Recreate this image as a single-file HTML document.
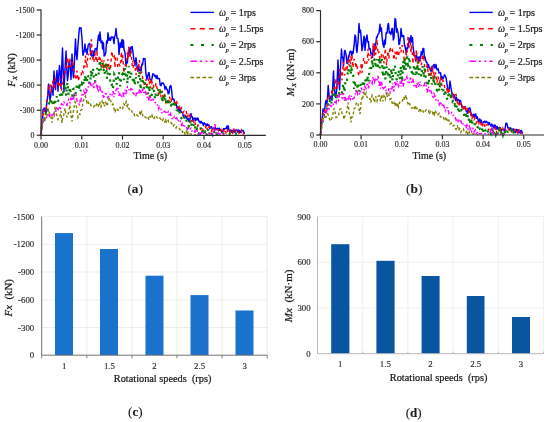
<!DOCTYPE html>
<html><head><meta charset="utf-8"><style>
html,body{margin:0;padding:0;background:#fff;}
svg{display:block;will-change:transform;}
text{font-family:"Liberation Serif",serif;fill:#1a1a1a;stroke:#1a1a1a;stroke-width:0.22px;}
.tk{font-size:8px;fill:#2a2a2a;stroke:#2a2a2a;stroke-width:0.15px;}
.tk2{font-size:8.8px;fill:#2a2a2a;stroke:#2a2a2a;stroke-width:0.15px;}
.ax2{font-size:10.3px;}
.ax{font-size:10px;}
.lg{font-size:10px;}
.pl{font-size:13px;stroke-width:0.1px;}
</style></head><body>
<svg width="550" height="422" viewBox="0 0 550 422">
<rect width="550" height="422" fill="#fff"/>
<path d="M41.0 135.2 L42.0 121.7 L42.6 117.1 L43.0 109.7 L44.5 108.0 L45.0 111.4 L46.0 112.6 L46.6 104.6 L47.4 99.2 L48.5 84.0 L49.0 90.9 L50.0 99.6 L50.6 97.2 L51.5 86.0 L52.2 89.1 L53.0 95.2 L54.0 71.0 L54.6 81.1 L55.5 89.6 L56.2 79.1 L57.0 70.5 L58.0 91.2 L58.6 77.1 L59.5 65.5 L60.2 73.3 L61.0 88.3 L61.8 64.4 L62.5 48.0 L63.4 77.1 L64.0 91.4 L65.0 69.2 L66.0 51.0 L66.6 66.9 L67.5 80.7 L68.2 75.1 L69.0 61.2 L69.5 60.6 L70.6 72.6 L71.0 79.4 L72.0 54.0 L73.0 73.1 L73.5 77.6 L74.6 57.9 L75.5 39.0 L76.2 53.2 L77.0 59.6 L78.0 44.5 L78.5 38.7 L79.4 27.8 L80.0 28.6 L81.0 27.8 L82.0 38.5 L82.6 51.2 L83.0 55.3 L84.2 50.6 L85.0 44.0 L85.8 51.7 L86.6 49.3 L87.0 54.3 L88.2 45.2 L89.0 43.9 L89.8 43.5 L90.6 55.0 L91.0 51.0 L92.2 56.7 L93.0 57.4 L93.8 51.2 L94.6 55.4 L95.0 49.0 L96.2 48.4 L97.0 50.4 L97.8 41.0 L98.6 35.1 L99.4 40.5 L100.0 32.0 L101.0 42.8 L102.0 41.0 L102.6 49.0 L103.4 42.6 L104.2 56.1 L105.0 55.1 L105.8 52.5 L106.6 41.0 L107.4 43.0 L108.0 32.8 L109.0 40.3 L110.0 37.9 L110.6 40.2 L111.4 37.0 L112.0 37.4 L113.0 37.0 L114.0 43.6 L114.6 36.7 L115.4 34.6 L116.0 28.5 L117.0 38.3 L118.0 38.5 L118.6 45.8 L119.0 54.5 L120.2 42.6 L121.0 47.3 L122.0 39.5 L122.6 47.3 L123.4 40.2 L124.0 49.2 L125.0 52.9 L126.0 65.8 L126.6 61.7 L127.4 62.8 L128.2 52.7 L129.0 53.2 L129.8 47.9 L130.6 52.9 L131.0 46.9 L132.2 46.6 L133.0 52.7 L133.8 59.4 L134.6 61.4 L135.0 65.8 L136.0 57.7 L137.0 66.0 L137.8 71.1 L138.6 66.0 L139.4 70.6 L140.0 69.5 L141.0 71.2 L142.0 63.8 L142.6 64.6 L143.4 58.5 L144.5 59.1 L145.0 58.5 L145.8 73.0 L146.6 77.5 L147.0 79.3 L148.5 72.9 L149.0 72.5 L149.8 78.8 L150.5 79.8 L151.4 81.0 L152.2 77.1 L152.7 74.0 L153.8 74.0 L154.6 76.3 L155.5 75.5 L156.2 78.2 L157.0 75.5 L157.8 78.8 L158.4 78.6 L159.4 78.4 L160.2 85.1 L161.0 85.7 L161.8 83.0 L163.0 83.2 L163.4 83.0 L164.5 86.0 L165.0 89.4 L165.8 86.6 L167.0 89.8 L167.4 89.7 L168.2 93.8 L169.0 93.4 L169.8 86.6 L170.8 85.4 L171.4 88.2 L172.5 99.4 L173.0 99.0 L173.8 99.0 L175.0 103.9 L175.4 103.5 L176.2 103.5 L177.0 108.2 L178.0 107.0 L178.6 110.1 L179.4 111.1 L180.2 108.2 L181.0 112.4 L181.8 112.0 L182.6 112.9 L183.4 116.8 L184.0 115.8 L185.0 118.1 L185.8 115.8 L187.0 118.5 L187.4 119.6 L188.2 118.3 L189.0 121.5 L190.0 119.2 L191.0 113.5 L191.4 116.7 L192.2 116.5 L193.0 121.0 L193.8 118.1 L194.6 118.0 L195.4 120.7 L196.0 118.0 L197.0 120.0 L197.8 118.0 L199.0 121.6 L199.4 121.2 L200.2 123.1 L201.0 121.2 L202.0 123.1 L202.6 122.8 L203.4 125.5 L204.2 122.8 L205.0 124.0 L205.8 123.9 L206.6 126.1 L207.4 123.9 L208.0 125.2 L209.0 125.0 L209.8 128.7 L211.0 126.6 L211.4 126.6 L212.2 128.7 L213.0 128.9 L214.0 127.7 L214.6 130.2 L215.4 127.7 L216.2 129.8 L217.0 128.6 L217.8 128.3 L218.6 130.8 L219.4 128.3 L220.0 130.2 L221.0 130.0 L221.8 132.5 L223.0 130.4 L223.4 128.8 L224.2 128.8 L225.0 128.8 L226.0 128.4 L227.0 126.0 L227.4 128.8 L228.2 126.0 L229.0 130.3 L229.8 131.4 L230.6 130.0 L231.4 132.2 L232.0 130.3 L233.0 132.1 L233.8 130.0 L234.6 132.3 L235.4 130.0 L236.0 130.0 L237.0 130.0 L237.8 132.3 L238.6 130.0 L239.4 132.5 L240.0 130.5 L241.0 132.7 L241.8 130.5 L242.6 130.5 L243.4 130.8 L244.0 133.0 L245.0 133.2" stroke="#0000ff" stroke-width="1.45" fill="none" stroke-linejoin="round"/>
<path d="M41.0 135.2 L42.5 117.5 L43.4 110.1 L44.0 111.0 L44.6 110.2 L45.5 115.0 L47.0 99.3 L48.5 92.9 L49.4 84.0 L50.0 88.5 L50.6 84.6 L51.5 92.9 L53.0 80.7 L54.2 89.1 L55.0 82.0 L55.4 78.9 L56.5 80.7 L58.0 84.1 L59.0 87.1 L60.0 78.5 L61.4 90.6 L62.0 86.3 L62.6 85.1 L63.5 75.1 L65.0 75.5 L66.2 64.3 L67.0 68.2 L67.4 57.4 L69.0 67.3 L69.8 57.8 L71.0 67.1 L72.2 62.7 L73.0 64.8 L73.4 66.3 L75.0 76.6 L75.8 80.0 L77.0 70.7 L78.2 80.8 L79.0 77.8 L79.4 78.3 L81.0 76.9 L81.8 69.9 L83.0 72.6 L84.2 63.8 L85.0 67.2 L85.4 55.6 L87.0 67.5 L87.8 53.5 L89.0 56.0 L90.2 59.5 L91.0 48.2 L91.4 39.4 L93.0 61.7 L93.8 62.1 L95.0 52.9 L96.2 61.6 L97.0 50.0 L97.4 62.4 L99.0 58.3 L99.8 55.5 L101.0 66.3 L102.2 59.5 L103.4 68.9 L104.0 60.2 L104.6 68.8 L106.0 63.6 L107.0 70.1 L108.0 59.1 L109.4 70.1 L110.0 65.9 L110.6 68.1 L111.8 51.2 L113.0 58.4 L114.2 56.4 L115.0 67.6 L115.4 57.6 L117.0 56.3 L117.8 67.7 L119.0 64.4 L120.2 66.5 L121.4 51.7 L122.0 62.0 L122.6 53.5 L123.8 72.9 L125.0 65.2 L126.2 66.0 L127.4 52.6 L128.0 57.8 L128.6 46.4 L129.8 58.1 L131.0 50.4 L132.2 66.0 L133.0 60.6 L133.4 67.6 L134.6 62.7 L136.0 75.1 L137.0 66.4 L138.0 71.3 L139.4 60.1 L140.0 66.1 L140.6 73.4 L141.8 72.2 L143.0 80.7 L144.2 84.2 L145.4 83.7 L146.0 79.2 L146.6 85.4 L148.0 84.0 L149.0 77.9 L150.2 88.4 L151.4 78.8 L152.0 82.9 L152.6 81.6 L153.8 87.7 L155.0 88.2 L156.0 83.0 L157.4 90.1 L158.6 94.1 L160.0 89.1 L161.0 97.1 L162.2 90.9 L163.0 97.4 L164.6 93.9 L165.8 102.1 L167.0 99.0 L168.2 104.8 L169.4 96.6 L170.6 100.2 L171.0 102.2 L171.8 99.1 L173.0 99.9 L174.0 100.5 L175.4 104.1 L176.6 100.8 L177.0 103.8 L177.8 109.3 L179.0 105.4 L180.0 110.9 L181.4 108.0 L182.6 112.9 L184.0 111.2 L185.0 116.0 L186.2 111.2 L187.4 117.3 L188.0 115.5 L188.6 117.9 L189.8 115.1 L191.0 121.7 L192.0 119.0 L193.4 121.6 L194.6 119.0 L195.0 122.9 L195.8 124.9 L197.0 127.2 L198.0 125.1 L199.4 129.2 L200.6 129.5 L202.0 126.4 L203.0 130.6 L204.2 129.1 L205.4 126.2 L206.6 130.1 L207.0 128.0 L207.8 130.6 L209.0 126.5 L210.2 127.7 L211.4 131.3 L212.0 129.6 L212.6 129.3 L213.8 132.3 L215.0 129.0 L216.0 130.7 L217.4 129.3 L218.6 130.0 L220.0 132.5 L221.0 129.9 L222.2 132.9 L223.4 132.7 L224.6 128.5 L226.0 132.7 L227.0 128.7 L228.2 133.0 L229.4 133.7 L230.6 128.9 L232.0 131.6 L233.0 134.3 L234.2 128.1 L235.4 132.1 L236.6 129.5 L238.0 130.3 L239.0 133.6 L240.2 133.2 L241.4 130.3 L242.6 135.2 L244.0 132.6" stroke="#ff0000" stroke-width="1.4" fill="none" stroke-dasharray="3.2 3.2"/>
<path d="M41.0 135.2 L42.2 123.2 L43.0 121.3 L43.4 116.9 L44.6 119.0 L46.0 112.0 L47.0 113.1 L48.0 109.4 L49.4 100.9 L50.0 102.9 L50.6 98.1 L52.0 105.2 L53.0 99.7 L54.2 105.6 L55.0 99.4 L55.4 102.6 L56.6 96.2 L58.0 101.8 L59.0 95.5 L60.2 94.8 L61.0 97.7 L61.4 91.5 L62.6 96.7 L64.0 87.3 L65.0 84.0 L66.2 95.7 L67.0 85.8 L67.4 82.5 L68.6 95.0 L70.0 87.3 L71.0 95.3 L72.2 96.0 L73.0 89.4 L73.4 89.1 L74.6 97.3 L76.0 91.6 L77.0 83.7 L78.2 85.5 L79.0 90.3 L79.4 83.3 L80.6 91.2 L82.0 84.0 L83.0 86.3 L84.2 78.2 L85.0 81.7 L85.4 74.8 L86.6 82.5 L88.0 75.0 L89.0 82.3 L90.2 83.5 L91.0 70.5 L91.4 77.4 L93.0 68.4 L93.8 76.4 L95.0 81.9 L96.0 75.4 L97.4 67.9 L99.0 75.0 L99.8 60.2 L101.0 71.2 L102.2 62.1 L103.4 65.5 L104.0 74.3 L104.6 74.4 L105.8 62.5 L107.0 78.8 L108.0 71.2 L109.4 67.6 L110.0 79.3 L110.6 85.6 L112.0 84.9 L113.0 89.0 L114.2 74.3 L115.0 75.8 L115.4 75.0 L116.6 84.5 L118.0 77.0 L119.0 72.3 L120.2 86.4 L121.0 79.9 L121.4 75.6 L122.6 73.9 L124.0 79.9 L125.0 68.1 L126.2 78.4 L127.0 72.3 L127.4 83.5 L128.6 66.0 L130.0 77.9 L131.0 72.2 L132.0 76.4 L133.4 83.0 L134.0 77.3 L134.6 85.4 L135.8 77.2 L137.0 82.7 L138.2 82.3 L139.4 71.2 L140.0 76.5 L140.6 89.5 L141.8 78.1 L143.0 80.9 L144.0 88.8 L145.4 82.1 L146.6 86.7 L148.0 93.7 L149.0 85.7 L150.2 98.5 L151.4 97.4 L152.0 91.8 L152.6 86.6 L153.8 89.6 L155.0 99.1 L156.0 92.0 L157.4 95.9 L158.6 87.8 L160.0 92.0 L161.0 89.0 L162.2 102.5 L163.4 95.7 L164.0 99.9 L164.6 94.5 L165.8 104.0 L167.0 98.7 L168.0 103.4 L169.4 100.8 L170.6 106.9 L172.0 101.8 L173.0 107.3 L174.2 101.1 L175.0 104.5 L176.6 110.1 L178.0 110.6 L179.0 108.9 L180.2 117.2 L181.0 117.8 L182.6 119.5 L183.8 116.2 L185.0 120.6 L186.2 119.5 L187.4 123.8 L188.6 126.4 L189.0 124.5 L189.8 120.7 L191.0 126.3 L192.2 121.8 L193.4 123.6 L194.0 126.2 L194.6 124.4 L195.8 131.5 L197.0 129.1 L198.2 134.1 L199.4 132.7 L200.6 127.7 L202.0 132.8 L203.0 128.7 L204.2 135.2 L205.4 131.0 L206.0 131.1 L206.6 135.2 L207.8 129.0 L209.0 134.7 L210.2 130.9 L211.0 131.8 L212.6 134.8 L213.8 130.7 L215.0 135.2 L216.0 133.6 L217.4 133.8 L218.6 133.8 L219.8 133.9 L221.0 133.6 L222.2 133.8 L223.4 133.5 L224.6 133.8 L225.8 133.5 L227.0 133.6 L228.2 133.8 L229.4 133.8 L230.6 133.6 L231.8 133.8 L233.0 133.6 L234.2 133.8 L235.4 133.5 L236.6 133.8 L238.0 133.7" stroke="#007f00" stroke-width="2.2" fill="none" stroke-dasharray="2.2 4.2"/>
<path d="M41.0 135.2 L42.2 127.0 L43.0 118.2 L43.4 119.5 L44.6 117.1 L46.0 117.9 L47.0 117.2 L48.2 114.5 L49.0 114.7 L49.4 116.0 L50.6 113.9 L52.0 116.6 L53.0 112.7 L54.2 115.2 L55.0 111.1 L55.4 112.9 L56.6 108.0 L58.0 109.6 L59.0 106.7 L60.2 109.6 L61.0 107.1 L61.4 103.3 L62.6 106.2 L64.0 102.2 L65.0 104.4 L66.2 105.0 L67.0 105.4 L67.4 102.1 L68.6 99.7 L70.0 102.6 L71.0 98.3 L72.2 100.8 L73.0 95.7 L73.4 99.7 L74.6 93.1 L76.0 95.2 L77.0 101.4 L78.0 103.1 L79.4 104.6 L80.0 101.3 L80.6 102.5 L82.0 95.0 L83.0 96.4 L84.0 91.3 L85.4 94.9 L86.0 87.8 L86.6 91.2 L87.8 88.7 L89.0 84.2 L90.2 81.6 L91.4 87.3 L93.0 83.4 L93.8 88.2 L95.0 80.7 L96.0 83.0 L97.4 88.1 L98.0 85.9 L98.6 90.3 L99.8 87.4 L101.0 92.4 L102.2 90.1 L103.4 97.1 L105.0 96.2 L105.8 92.1 L107.0 95.7 L108.0 98.0 L109.4 94.0 L111.0 94.8 L111.8 96.0 L113.0 91.2 L114.0 97.0 L115.4 91.7 L117.0 88.3 L117.8 86.8 L119.0 95.8 L120.0 92.8 L121.4 97.5 L123.0 93.6 L123.8 96.6 L125.0 89.8 L126.0 93.1 L127.4 87.0 L128.6 89.2 L130.0 91.3 L131.0 88.8 L132.2 89.3 L133.4 94.2 L134.0 93.1 L134.6 96.0 L135.8 95.8 L137.0 91.5 L138.2 94.1 L139.4 89.2 L140.0 93.4 L140.6 89.9 L141.8 93.1 L143.0 88.6 L144.2 94.2 L145.4 90.5 L147.0 97.5 L147.8 93.9 L149.0 101.1 L150.2 96.4 L151.0 100.3 L152.6 99.4 L153.8 100.0 L155.0 102.5 L156.2 102.7 L157.4 104.8 L158.6 108.8 L159.0 107.4 L159.8 110.1 L161.0 109.4 L162.2 113.6 L163.0 112.9 L164.6 111.3 L165.8 112.2 L167.0 113.7 L168.2 111.8 L169.4 116.3 L170.6 113.8 L171.0 117.1 L171.8 118.3 L173.0 119.4 L174.2 116.9 L175.0 118.9 L176.6 117.7 L178.0 121.4 L179.0 119.6 L180.2 120.9 L181.4 124.9 L182.0 123.8 L182.6 126.9 L183.8 124.2 L185.0 127.4 L186.0 127.0 L187.4 129.3 L188.6 127.9 L190.0 129.0 L191.0 128.2 L192.2 131.5 L193.4 132.6 L194.6 131.9 L195.0 130.7 L195.8 132.6 L197.0 130.8 L198.2 133.4 L199.4 134.3 L200.0 132.3 L200.6 134.0 L201.8 131.6 L203.0 132.1 L204.2 134.2 L205.0 133.6 L206.6 133.7 L207.8 133.9 L209.0 133.8 L210.2 133.8 L211.4 134.0 L212.6 133.9 L213.0 134.0 L213.8 129.2 L215.0 124.2 L216.0 133.1 L217.4 131.6 L218.6 133.8 L219.8 133.7 L221.0 134.0 L222.2 134.0 L223.4 134.1 L224.6 134.1 L225.0 134.2" stroke="#ff00ff" stroke-width="1.5" fill="none" stroke-dasharray="4 2 1.5 2 1.5 2"/>
<path d="M41.0 135.2 L42.2 127.7 L43.0 118.6 L43.4 120.6 L44.6 118.2 L46.0 115.3 L47.0 116.1 L48.2 110.0 L49.0 109.6 L49.4 113.1 L50.6 114.7 L52.0 122.6 L53.0 116.0 L54.2 113.0 L55.0 106.6 L55.4 106.7 L56.6 115.0 L58.0 119.5 L59.0 117.6 L60.2 114.4 L61.0 110.9 L61.4 117.7 L62.0 123.0 L62.6 117.8 L63.8 115.4 L65.0 108.4 L66.2 114.9 L67.0 117.3 L67.4 115.0 L68.6 113.1 L70.0 105.1 L71.0 115.6 L72.0 121.5 L73.4 111.2 L75.0 101.8 L75.8 103.4 L77.0 109.6 L78.0 117.5 L79.4 114.0 L80.0 114.4 L80.6 110.5 L82.0 109.3 L83.0 101.5 L84.0 99.1 L85.4 96.3 L87.0 102.6 L87.8 100.9 L89.0 104.2 L90.0 103.1 L91.4 106.2 L93.0 106.0 L93.8 106.9 L95.0 104.2 L96.0 105.5 L97.4 102.6 L98.6 106.9 L100.0 102.9 L101.0 106.5 L102.2 101.5 L103.4 104.8 L104.0 102.1 L104.6 106.3 L105.8 102.6 L107.0 106.1 L108.2 100.5 L109.0 99.8 L109.4 97.8 L110.6 100.7 L112.0 104.5 L113.0 104.0 L114.2 109.3 L115.0 107.8 L115.4 111.0 L116.6 108.4 L118.0 110.1 L119.0 110.7 L120.2 107.3 L121.0 108.3 L121.4 109.5 L122.6 108.7 L123.8 103.8 L125.0 105.8 L126.2 101.8 L127.4 107.3 L128.0 103.8 L128.6 108.3 L130.0 109.8 L131.0 109.2 L132.2 112.2 L133.0 112.7 L133.4 112.1 L134.6 115.5 L135.8 114.0 L137.0 115.3 L138.2 116.2 L139.4 114.4 L140.0 111.4 L140.6 113.6 L141.8 111.4 L143.0 116.6 L144.0 115.8 L145.4 117.5 L147.0 117.5 L147.8 116.5 L149.0 119.8 L150.2 116.4 L151.4 117.8 L152.0 115.5 L152.6 117.8 L153.8 119.2 L155.0 116.2 L156.2 115.8 L157.0 117.6 L158.6 119.4 L159.8 118.1 L161.0 119.5 L162.2 121.5 L163.4 118.7 L164.6 120.5 L165.0 122.9 L165.8 120.1 L167.0 122.9 L168.2 120.7 L169.0 122.9 L170.6 122.2 L172.0 124.1 L173.0 126.6 L174.2 124.7 L175.4 126.3 L176.0 127.9 L176.6 126.8 L177.8 127.0 L179.0 128.1 L180.0 129.7 L181.4 129.1 L182.6 132.2 L184.0 130.8 L185.0 134.1 L186.2 131.1 L187.4 135.2 L188.0 132.4 L188.6 134.0 L189.8 133.7 L191.0 134.3 L192.2 134.5 L193.4 134.5 L194.6 134.7 L196.0 134.8" stroke="#808000" stroke-width="1.4" fill="none" stroke-dasharray="2.8 2.2"/>
<path d="M41.0 9.6 V135.3 H265.8" stroke="#2b2b2b" stroke-width="1.15" fill="none"/>
<path d="M36.7 135.2 H41.0" stroke="#2b2b2b" stroke-width="1.2"/>
<text x="34.4" y="137.9" class="tk" text-anchor="end">0</text>
<path d="M36.7 110.2 H41.0" stroke="#2b2b2b" stroke-width="1.2"/>
<text x="34.4" y="112.9" class="tk" text-anchor="end">-300</text>
<path d="M36.7 85.1 H41.0" stroke="#2b2b2b" stroke-width="1.2"/>
<text x="34.4" y="87.8" class="tk" text-anchor="end">-600</text>
<path d="M36.7 60.1 H41.0" stroke="#2b2b2b" stroke-width="1.2"/>
<text x="34.4" y="62.8" class="tk" text-anchor="end">-900</text>
<path d="M36.7 35.0 H41.0" stroke="#2b2b2b" stroke-width="1.2"/>
<text x="34.4" y="37.7" class="tk" text-anchor="end">-1200</text>
<path d="M36.7 10.0 H41.0" stroke="#2b2b2b" stroke-width="1.2"/>
<text x="34.4" y="12.7" class="tk" text-anchor="end">-1500</text>
<path d="M41.0 135.3 V139.6" stroke="#2b2b2b" stroke-width="1.2"/>
<text x="41.0" y="147.6" class="tk" text-anchor="middle">0.00</text>
<path d="M81.8 135.3 V139.6" stroke="#2b2b2b" stroke-width="1.2"/>
<text x="81.8" y="147.6" class="tk" text-anchor="middle">0.01</text>
<path d="M122.5 135.3 V139.6" stroke="#2b2b2b" stroke-width="1.2"/>
<text x="122.5" y="147.6" class="tk" text-anchor="middle">0.02</text>
<path d="M163.2 135.3 V139.6" stroke="#2b2b2b" stroke-width="1.2"/>
<text x="163.2" y="147.6" class="tk" text-anchor="middle">0.03</text>
<path d="M204.0 135.3 V139.6" stroke="#2b2b2b" stroke-width="1.2"/>
<text x="204.0" y="147.6" class="tk" text-anchor="middle">0.04</text>
<path d="M244.8 135.3 V139.6" stroke="#2b2b2b" stroke-width="1.2"/>
<text x="244.8" y="147.6" class="tk" text-anchor="middle">0.05</text>
<path d="M190.4 12.4 H213.8" stroke="#0000ff" stroke-width="1.4" fill="none" stroke-linejoin="round"/>
<text x="219.0" y="15.8" class="lg"><tspan font-style="italic">&#969;</tspan><tspan font-style="italic" font-size="6" dy="3.7" dx="-0.4">p</tspan><tspan dy="-3.7" dx="-0.6"> = 1rps</tspan></text>
<path d="M190.4 28.7 H213.8" stroke="#ff0000" stroke-width="1.5" fill="none" stroke-dasharray="5 4.4"/>
<text x="219.0" y="32.0" class="lg"><tspan font-style="italic">&#969;</tspan><tspan font-style="italic" font-size="6" dy="3.7" dx="-0.4">p</tspan><tspan dy="-3.7" dx="-0.6"> = 1.5rps</tspan></text>
<path d="M190.4 45.0 H213.8" stroke="#007f00" stroke-width="2.2" fill="none" stroke-dasharray="3 7.6"/>
<text x="219.0" y="48.2" class="lg"><tspan font-style="italic">&#969;</tspan><tspan font-style="italic" font-size="6" dy="3.7" dx="-0.4">p</tspan><tspan dy="-3.7" dx="-0.6"> = 2rps</tspan></text>
<path d="M190.4 61.2 H213.8" stroke="#ff00ff" stroke-width="1.6" fill="none" stroke-dasharray="6.5 3 2 3.5 2 3"/>
<text x="219.0" y="64.5" class="lg"><tspan font-style="italic">&#969;</tspan><tspan font-style="italic" font-size="6" dy="3.7" dx="-0.4">p</tspan><tspan dy="-3.7" dx="-0.6"> = 2.5rps</tspan></text>
<path d="M190.4 77.5 H213.8" stroke="#808000" stroke-width="1.5" fill="none" stroke-dasharray="3.7 2.3"/>
<text x="219.0" y="80.8" class="lg"><tspan font-style="italic">&#969;</tspan><tspan font-style="italic" font-size="6" dy="3.7" dx="-0.4">p</tspan><tspan dy="-3.7" dx="-0.6"> = 3rps</tspan></text>
<text x="150.3" y="159.4" class="ax" text-anchor="middle">Time (s)</text>
<text transform="translate(14.5 70) rotate(-90)" class="ax" style="font-size:10.6px" text-anchor="middle"><tspan font-style="italic">F</tspan><tspan font-style="italic" font-size="7" dy="2">X</tspan><tspan dy="-2"> (kN)</tspan></text>
<text x="135.2" y="193" class="pl" style="font-size:13.4px" text-anchor="middle">(<tspan font-weight="bold">a</tspan>)</text>
<path d="M320.5 135.0 L321.3 125.8 L322.0 120.2 L323.0 109.2 L323.7 109.0 L324.5 112.1 L325.3 103.9 L326.0 100.4 L327.0 103.7 L327.7 94.2 L328.2 85.5 L329.3 97.6 L329.8 99.8 L331.0 96.3 L332.0 100.2 L332.5 91.3 L333.5 71.0 L334.1 83.2 L335.2 96.7 L335.7 97.5 L336.5 91.7 L337.3 78.8 L338.0 60.0 L338.9 80.3 L339.6 89.7 L340.5 67.5 L341.5 49.1 L342.1 57.7 L342.9 57.3 L343.5 65.9 L344.5 51.1 L345.0 50.3 L346.1 55.0 L347.0 63.4 L347.7 63.4 L348.5 55.9 L349.0 55.8 L350.1 51.3 L351.0 51.3 L351.7 55.6 L352.5 51.7 L353.0 53.6 L354.1 45.2 L355.0 35.0 L355.7 36.8 L356.5 50.3 L357.0 52.5 L358.1 40.4 L359.0 23.5 L359.7 32.2 L360.5 30.2 L361.0 35.9 L362.0 50.6 L362.9 45.8 L364.0 36.3 L364.5 38.2 L365.0 50.5 L366.1 39.2 L367.0 34.9 L367.7 41.9 L368.5 41.6 L369.0 49.0 L370.1 48.4 L370.9 53.9 L372.0 53.5 L372.5 57.5 L373.3 46.4 L374.1 51.7 L375.0 43.7 L375.7 45.0 L376.5 37.0 L377.0 37.5 L378.1 34.1 L378.9 33.7 L380.0 24.2 L380.5 31.1 L381.3 27.9 L382.0 35.6 L382.9 44.1 L384.0 47.2 L384.5 40.1 L385.3 44.1 L386.1 32.8 L387.0 33.2 L388.0 24.2 L388.5 23.5 L389.3 33.0 L390.0 32.0 L390.9 34.6 L392.0 28.5 L392.5 28.5 L393.3 40.0 L394.0 37.8 L395.0 18.5 L395.7 19.7 L396.5 32.1 L397.0 28.5 L398.1 33.1 L399.0 44.6 L399.7 43.2 L400.5 36.5 L401.0 28.5 L402.1 36.8 L403.0 35.6 L403.7 35.6 L404.5 45.8 L405.0 45.6 L406.1 52.8 L407.0 47.7 L407.7 48.3 L408.5 45.4 L409.0 37.9 L410.1 42.7 L411.0 35.6 L411.7 42.0 L412.5 37.6 L413.0 45.9 L414.1 54.2 L415.0 55.5 L415.7 61.1 L416.5 55.5 L417.0 59.0 L418.1 57.0 L418.9 61.5 L420.0 56.4 L420.5 58.6 L421.3 51.6 L422.1 55.0 L423.0 48.4 L423.7 48.4 L424.5 58.5 L425.0 57.0 L426.1 61.9 L427.0 62.6 L427.7 67.8 L428.5 64.4 L429.0 67.3 L430.0 68.0 L430.9 71.4 L431.7 66.5 L432.5 71.0 L433.0 65.9 L434.1 64.4 L434.9 68.1 L436.0 64.4 L436.5 68.3 L437.3 69.8 L438.1 68.7 L439.0 73.0 L439.7 72.7 L440.5 72.7 L441.3 79.5 L442.0 76.4 L442.9 78.8 L443.7 77.4 L444.5 74.7 L445.0 75.1 L446.1 77.9 L447.0 84.0 L447.7 88.7 L448.5 91.9 L449.0 90.9 L450.0 81.0 L450.9 87.4 L452.0 93.3 L452.5 93.3 L453.3 97.3 L454.1 94.6 L455.0 97.6 L455.7 100.7 L456.5 97.4 L457.3 100.8 L458.0 99.7 L458.9 99.7 L459.7 104.4 L460.5 100.4 L461.0 103.6 L462.1 107.5 L462.9 108.0 L464.0 106.7 L464.5 108.6 L465.3 106.7 L466.1 111.1 L467.0 111.5 L467.7 113.2 L468.5 109.0 L469.3 108.0 L470.0 108.0 L470.9 113.1 L472.0 115.9 L472.5 116.6 L473.3 114.3 L474.1 117.2 L475.0 114.2 L475.7 114.0 L476.5 118.3 L477.3 116.8 L478.0 119.4 L478.9 121.9 L479.7 119.0 L480.5 122.4 L481.0 120.0 L482.1 122.7 L482.9 123.0 L484.0 121.5 L484.5 121.2 L485.3 122.7 L486.1 121.2 L487.0 122.5 L487.7 122.3 L488.5 124.8 L489.3 122.4 L490.0 124.3 L490.9 126.1 L491.7 124.0 L492.5 126.5 L493.0 125.0 L494.1 128.2 L494.9 125.0 L496.0 126.6 L496.5 129.1 L497.3 126.6 L498.1 129.3 L499.0 127.7 L499.7 129.0 L500.5 127.7 L501.3 131.2 L502.0 129.6 L502.9 129.4 L503.7 129.4 L504.5 131.2 L505.0 129.0 L506.0 123.1 L506.9 123.4 L508.0 128.1 L508.5 127.7 L509.3 130.4 L510.1 127.7 L511.0 129.2 L511.7 128.8 L512.5 130.6 L513.3 128.8 L514.0 129.4 L514.9 132.2 L515.7 132.6 L516.5 129.4 L517.0 130.2 L518.1 130.0 L518.9 132.9 L520.0 130.5 L520.5 133.1 L521.3 130.5 L522.1 132.6 L523.0 132.0" stroke="#0000ff" stroke-width="1.45" fill="none" stroke-linejoin="round"/>
<path d="M320.5 135.0 L322.0 119.4 L322.9 117.0 L324.0 109.0 L325.3 113.9 L326.0 110.8 L326.5 109.7 L328.0 96.8 L328.9 98.7 L330.0 94.2 L331.3 94.2 L332.0 89.1 L332.5 93.9 L334.0 86.3 L334.9 89.2 L336.0 78.1 L337.3 88.3 L338.0 82.8 L338.5 85.8 L340.0 69.0 L340.9 71.6 L342.0 80.3 L343.3 62.0 L344.0 68.0 L344.5 75.5 L346.0 68.5 L346.9 70.8 L348.0 60.1 L349.3 66.2 L350.0 55.5 L350.5 64.3 L352.0 55.0 L352.9 67.7 L354.0 58.8 L355.3 62.1 L356.0 68.2 L356.5 63.3 L358.0 72.0 L358.9 76.0 L360.0 72.2 L361.3 63.3 L362.0 72.9 L362.5 63.1 L364.0 57.8 L364.9 63.3 L366.0 65.4 L367.3 60.7 L368.0 48.7 L368.5 60.5 L370.0 54.4 L370.9 59.1 L372.0 56.2 L373.3 43.3 L374.5 60.5 L375.0 44.9 L375.7 54.6 L377.0 39.3 L378.1 54.1 L379.0 51.5 L380.5 63.0 L381.7 52.9 L383.0 54.9 L384.1 63.5 L385.3 48.3 L386.5 65.4 L388.0 51.0 L388.9 58.8 L390.1 46.9 L391.0 52.4 L392.5 50.0 L394.0 60.0 L394.9 51.5 L396.1 59.1 L397.0 49.9 L398.5 56.5 L400.0 47.2 L400.9 52.3 L402.1 45.1 L403.0 48.4 L404.5 62.1 L406.0 53.8 L406.9 55.7 L408.0 36.7 L409.3 47.5 L410.5 42.4 L411.0 52.7 L411.7 44.7 L412.9 63.6 L414.0 52.0 L415.3 60.2 L416.5 49.6 L417.0 59.4 L417.7 67.3 L418.9 62.1 L420.0 57.9 L421.3 65.1 L422.5 56.1 L423.0 59.1 L423.7 55.1 L424.9 72.0 L426.0 69.8 L427.3 64.9 L428.5 75.7 L430.0 68.2 L430.9 77.3 L432.1 66.0 L433.3 81.5 L434.0 71.7 L434.5 78.0 L435.7 72.5 L436.9 82.9 L438.0 76.3 L439.3 85.8 L440.5 76.7 L442.0 85.8 L442.9 80.4 L444.1 83.1 L445.3 92.9 L446.0 91.1 L446.5 88.0 L447.7 93.4 L448.9 87.7 L450.0 94.8 L451.3 98.4 L452.5 92.4 L454.0 98.4 L454.9 95.3 L456.1 94.6 L457.3 102.7 L458.0 101.0 L458.5 103.2 L459.7 106.8 L460.9 101.8 L462.0 105.2 L463.3 110.3 L464.5 105.1 L466.0 110.1 L466.9 107.5 L468.1 113.6 L469.3 111.5 L470.0 114.8 L470.5 113.5 L471.7 119.2 L472.9 116.3 L474.0 119.6 L475.3 117.6 L476.5 122.6 L478.0 120.2 L478.9 123.4 L480.1 120.5 L481.3 125.4 L482.0 122.1 L482.5 125.0 L483.7 122.6 L484.9 127.8 L486.0 125.2 L487.3 124.4 L488.5 130.2 L490.0 128.4 L490.9 130.5 L492.1 127.0 L493.3 132.7 L494.5 131.1 L495.0 130.5 L495.7 127.1 L496.9 133.1 L498.1 129.3 L499.3 128.8 L500.0 132.2 L500.5 127.8 L501.7 133.6 L502.9 128.3 L504.1 132.2 L505.0 132.2 L506.5 127.9 L507.7 127.7 L508.9 128.8 L510.0 131.2 L511.3 133.0 L512.5 129.4 L513.7 131.8 L515.0 130.2 L516.1 128.6 L517.3 132.7 L518.5 128.5 L520.0 132.5 L520.9 131.2 L522.1 133.8 L523.0 133.2" stroke="#ff0000" stroke-width="1.4" fill="none" stroke-dasharray="3.2 3.2"/>
<path d="M320.5 135.0 L321.7 124.9 L323.0 120.6 L324.1 113.2 L325.3 117.4 L326.0 111.0 L326.5 113.1 L327.7 103.5 L329.0 105.8 L330.1 100.0 L331.3 103.9 L332.0 97.3 L332.5 99.7 L333.7 88.8 L335.0 92.8 L336.1 99.5 L337.3 93.3 L338.0 97.0 L338.5 97.4 L339.7 90.4 L341.0 92.1 L342.1 92.6 L343.3 83.9 L344.5 92.1 L345.0 85.4 L345.7 79.8 L347.0 80.9 L348.1 68.6 L349.0 73.5 L350.5 65.2 L351.0 74.1 L351.7 69.5 L353.0 72.3 L354.1 89.0 L355.0 80.9 L356.5 92.2 L358.0 83.0 L358.9 91.5 L360.1 88.1 L361.0 82.9 L362.5 85.2 L363.0 80.3 L363.7 86.9 L364.9 79.1 L366.0 83.3 L367.3 75.6 L368.5 82.2 L369.0 76.4 L369.7 67.5 L371.0 70.7 L372.1 59.3 L373.0 67.9 L374.5 58.6 L376.0 67.9 L376.9 59.2 L378.1 69.1 L379.3 57.6 L380.0 68.4 L380.5 59.4 L381.7 58.2 L382.9 76.7 L384.0 64.7 L385.3 79.5 L386.5 66.4 L388.0 77.1 L388.9 68.5 L390.1 82.6 L391.3 68.7 L392.0 75.3 L392.5 80.9 L393.7 68.0 L394.9 65.1 L396.0 78.2 L397.3 80.4 L398.5 70.4 L400.0 79.4 L400.9 66.3 L402.1 81.4 L403.3 61.0 L404.0 70.7 L404.5 58.3 L405.7 70.0 L406.9 54.5 L408.0 67.9 L409.3 57.0 L410.5 72.6 L412.0 72.1 L412.9 75.8 L414.1 64.6 L415.3 74.8 L416.0 67.3 L416.5 76.0 L417.7 61.5 L418.9 74.9 L420.0 68.6 L421.3 76.4 L422.5 65.8 L424.0 77.7 L424.9 66.7 L426.1 81.2 L427.3 84.7 L428.0 81.7 L428.5 85.2 L429.7 73.2 L430.9 75.6 L432.0 84.4 L433.3 79.3 L434.0 84.2 L434.5 76.4 L435.7 88.6 L436.9 90.1 L438.0 83.7 L439.3 91.1 L440.5 81.8 L442.0 90.0 L442.9 87.0 L444.1 95.3 L445.3 90.2 L446.0 96.0 L446.5 97.5 L447.7 100.1 L448.9 91.6 L450.0 98.7 L451.3 96.4 L452.5 101.5 L454.0 99.5 L454.9 104.9 L456.1 103.2 L457.3 111.0 L458.0 110.4 L458.5 107.1 L459.7 112.1 L460.9 108.5 L462.0 110.4 L463.3 110.6 L464.5 117.5 L466.0 115.0 L466.9 119.1 L468.1 114.8 L469.3 122.7 L470.0 120.6 L470.5 124.3 L471.7 118.5 L472.9 126.2 L474.0 124.8 L475.3 123.8 L476.5 122.9 L478.0 128.7 L478.9 126.5 L480.1 129.6 L481.3 130.6 L482.0 128.1 L482.5 133.2 L483.7 127.6 L484.9 129.6 L486.0 132.3 L487.3 129.9 L488.5 133.7 L490.0 131.6 L490.9 133.5 L492.1 128.7 L493.3 134.2 L494.5 131.1 L495.7 134.8 L496.9 130.6 L498.1 135.0 L499.3 129.8 L500.0 132.0 L500.5 134.0 L501.7 131.3 L502.9 135.0 L504.1 130.1 L505.3 134.5 L506.5 131.6 L507.7 131.8 L508.9 131.0 L510.0 132.3 L511.3 130.1 L512.5 134.5 L513.7 132.3 L514.9 133.6 L516.1 133.4 L517.3 133.8 L518.0 133.7" stroke="#007f00" stroke-width="2.2" fill="none" stroke-dasharray="2.2 4.2"/>
<path d="M320.5 135.0 L321.7 123.9 L323.0 116.9 L324.1 112.7 L325.3 110.4 L326.5 112.0 L327.0 108.7 L327.7 107.6 L328.9 110.3 L330.1 105.4 L331.0 106.5 L332.5 103.6 L334.0 104.9 L334.9 100.9 L336.1 102.9 L337.0 97.0 L338.5 100.3 L339.7 93.1 L341.0 94.3 L342.1 97.8 L343.3 93.1 L344.5 100.6 L345.0 96.8 L345.7 101.5 L346.9 97.8 L348.0 100.6 L349.3 96.4 L350.5 99.0 L351.0 95.8 L351.7 98.7 L352.9 98.9 L354.1 98.0 L355.0 94.7 L356.5 89.4 L357.7 94.6 L359.0 92.9 L360.1 94.2 L361.3 87.6 L362.5 92.2 L363.0 92.5 L363.7 92.8 L364.9 86.5 L366.0 88.4 L367.3 82.9 L368.0 86.0 L368.5 88.3 L369.7 80.1 L371.0 81.5 L372.1 83.7 L373.0 76.9 L374.5 82.2 L376.0 77.8 L376.9 81.4 L378.1 76.0 L379.3 86.7 L380.0 81.9 L380.5 88.5 L381.7 81.6 L382.9 89.8 L384.0 87.8 L385.3 87.0 L386.5 93.1 L388.0 92.9 L388.9 88.4 L390.1 92.2 L391.3 87.3 L392.0 89.2 L392.5 83.4 L393.7 91.4 L394.9 81.0 L396.0 86.1 L397.3 80.8 L398.5 86.3 L400.0 82.7 L400.9 86.4 L402.1 78.6 L403.3 86.7 L404.0 81.8 L404.5 78.2 L405.7 80.2 L406.9 77.0 L408.0 82.1 L409.3 83.9 L410.5 77.7 L412.0 83.2 L412.9 78.6 L414.1 86.6 L415.3 86.8 L416.0 83.9 L416.5 87.9 L417.7 81.9 L418.9 86.7 L420.0 81.6 L421.3 86.3 L422.5 85.8 L424.0 85.7 L424.9 83.1 L426.1 85.2 L427.3 92.3 L428.0 88.6 L428.5 86.6 L429.7 92.4 L430.9 91.0 L432.0 94.4 L433.3 98.5 L434.0 93.9 L434.5 94.9 L435.7 99.5 L436.9 101.4 L438.0 100.5 L439.3 104.5 L440.5 101.5 L442.0 106.0 L442.9 103.6 L444.1 106.5 L445.3 110.7 L446.0 109.1 L446.5 107.7 L447.7 107.8 L448.9 113.5 L450.0 112.5 L451.3 112.4 L452.5 115.2 L454.0 115.3 L454.9 116.2 L456.1 119.9 L457.3 118.5 L458.0 120.9 L458.5 119.3 L459.7 122.5 L460.9 121.1 L462.0 124.9 L463.3 123.7 L464.5 123.7 L466.0 128.2 L466.9 125.3 L468.1 129.1 L469.3 126.5 L470.0 130.2 L470.5 127.7 L471.7 131.5 L472.9 128.6 L474.0 132.0 L475.3 130.0 L476.5 134.6 L477.7 131.7 L478.9 133.8 L480.0 133.4 L481.3 133.5 L482.5 133.6 L483.7 133.8 L484.9 133.7 L486.1 133.7 L487.3 134.0 L488.5 134.0 L490.0 134.0 L490.9 128.8 L492.0 125.7 L493.0 134.0 L494.5 134.0 L495.7 134.1 L496.9 134.0 L498.1 134.2 L499.3 134.1 L500.5 134.3 L501.7 134.2 L502.9 134.3 L504.1 134.3 L505.0 134.3" stroke="#ff00ff" stroke-width="1.5" fill="none" stroke-dasharray="4 2 1.5 2 1.5 2"/>
<path d="M320.5 135.0 L321.7 126.2 L323.0 118.7 L324.1 116.1 L325.3 117.2 L326.5 115.9 L327.0 113.9 L327.7 113.6 L328.9 116.8 L330.1 120.8 L331.0 120.6 L332.5 116.4 L334.0 108.3 L334.9 111.1 L336.1 117.6 L337.0 117.4 L338.5 116.1 L339.7 109.3 L341.0 108.9 L342.1 113.6 L343.3 115.1 L344.0 119.4 L344.5 117.2 L345.7 114.8 L346.9 110.9 L348.0 102.7 L349.3 113.1 L350.5 116.7 L351.0 122.4 L351.7 117.1 L352.9 116.8 L354.1 108.3 L355.0 108.2 L356.5 102.4 L358.0 102.9 L358.9 108.4 L360.0 114.0 L361.3 100.5 L362.0 97.3 L362.5 99.0 L364.0 92.8 L364.9 96.0 L366.1 93.0 L367.0 97.3 L368.5 99.5 L370.0 98.6 L370.9 102.5 L372.1 95.4 L373.0 97.1 L374.5 102.4 L375.7 96.4 L377.0 101.0 L378.1 96.5 L379.3 95.6 L380.0 97.9 L380.5 101.3 L381.7 94.6 L382.9 101.3 L384.0 96.0 L385.3 99.2 L386.5 91.9 L387.0 95.6 L387.7 97.3 L388.9 94.5 L390.0 99.4 L391.3 98.8 L392.5 104.7 L394.0 102.6 L394.9 106.0 L396.1 102.3 L397.3 106.8 L398.0 105.0 L398.5 106.9 L399.7 102.2 L401.0 102.2 L402.1 102.2 L403.3 96.9 L404.0 97.9 L404.5 99.8 L406.0 95.0 L406.9 100.2 L408.1 103.8 L409.0 102.1 L410.5 106.0 L411.7 108.3 L413.0 107.5 L414.1 109.5 L415.3 105.3 L416.5 110.3 L417.0 108.0 L417.7 110.9 L418.9 111.1 L420.1 108.0 L421.0 111.2 L422.5 109.7 L423.7 113.2 L425.0 111.3 L426.1 109.8 L427.3 110.4 L428.5 111.8 L429.0 110.0 L429.7 113.0 L430.9 110.8 L432.1 110.7 L433.0 113.8 L434.0 111.6 L434.5 114.5 L435.7 111.7 L436.9 115.3 L438.0 114.6 L439.3 113.3 L440.5 117.0 L442.0 116.6 L442.9 116.2 L444.1 119.2 L445.3 117.2 L446.0 120.0 L446.5 118.1 L447.7 122.0 L448.9 120.1 L450.0 124.1 L451.3 123.1 L452.5 126.1 L454.0 125.3 L454.9 128.5 L456.1 129.4 L457.3 126.0 L458.0 127.5 L458.5 130.6 L459.7 128.6 L460.9 132.1 L462.0 129.4 L463.3 128.9 L464.5 132.7 L466.0 132.8 L466.9 130.5 L468.1 135.0 L469.3 131.9 L470.0 133.5 L470.5 133.7 L471.7 133.6 L472.9 133.9 L474.1 133.9 L475.3 134.2 L476.5 134.3 L478.0 134.5" stroke="#808000" stroke-width="1.4" fill="none" stroke-dasharray="2.8 2.2"/>
<path d="M320.5 10.2 V135.0 H544.0" stroke="#2b2b2b" stroke-width="1.15" fill="none"/>
<path d="M316.2 135.0 H320.5" stroke="#2b2b2b" stroke-width="1.2"/>
<text x="313.9" y="137.7" class="tk" text-anchor="end">0</text>
<path d="M316.2 103.9 H320.5" stroke="#2b2b2b" stroke-width="1.2"/>
<text x="313.9" y="106.6" class="tk" text-anchor="end">200</text>
<path d="M316.2 72.8 H320.5" stroke="#2b2b2b" stroke-width="1.2"/>
<text x="313.9" y="75.5" class="tk" text-anchor="end">400</text>
<path d="M316.2 41.7 H320.5" stroke="#2b2b2b" stroke-width="1.2"/>
<text x="313.9" y="44.4" class="tk" text-anchor="end">600</text>
<path d="M316.2 10.6 H320.5" stroke="#2b2b2b" stroke-width="1.2"/>
<text x="313.9" y="13.3" class="tk" text-anchor="end">800</text>
<path d="M320.5 135.0 V139.3" stroke="#2b2b2b" stroke-width="1.2"/>
<text x="320.5" y="147.3" class="tk" text-anchor="middle">0.00</text>
<path d="M361.1 135.0 V139.3" stroke="#2b2b2b" stroke-width="1.2"/>
<text x="361.1" y="147.3" class="tk" text-anchor="middle">0.01</text>
<path d="M401.8 135.0 V139.3" stroke="#2b2b2b" stroke-width="1.2"/>
<text x="401.8" y="147.3" class="tk" text-anchor="middle">0.02</text>
<path d="M442.4 135.0 V139.3" stroke="#2b2b2b" stroke-width="1.2"/>
<text x="442.4" y="147.3" class="tk" text-anchor="middle">0.03</text>
<path d="M483.1 135.0 V139.3" stroke="#2b2b2b" stroke-width="1.2"/>
<text x="483.1" y="147.3" class="tk" text-anchor="middle">0.04</text>
<path d="M523.8 135.0 V139.3" stroke="#2b2b2b" stroke-width="1.2"/>
<text x="523.8" y="147.3" class="tk" text-anchor="middle">0.05</text>
<path d="M469.4 12.4 H492.8" stroke="#0000ff" stroke-width="1.4" fill="none" stroke-linejoin="round"/>
<text x="498.0" y="15.8" class="lg"><tspan font-style="italic">&#969;</tspan><tspan font-style="italic" font-size="6" dy="3.7" dx="-0.4">p</tspan><tspan dy="-3.7" dx="-0.6"> = 1rps</tspan></text>
<path d="M469.4 28.7 H492.8" stroke="#ff0000" stroke-width="1.5" fill="none" stroke-dasharray="5 4.4"/>
<text x="498.0" y="32.0" class="lg"><tspan font-style="italic">&#969;</tspan><tspan font-style="italic" font-size="6" dy="3.7" dx="-0.4">p</tspan><tspan dy="-3.7" dx="-0.6"> = 1.5rps</tspan></text>
<path d="M469.4 45.0 H492.8" stroke="#007f00" stroke-width="2.2" fill="none" stroke-dasharray="3 7.6"/>
<text x="498.0" y="48.2" class="lg"><tspan font-style="italic">&#969;</tspan><tspan font-style="italic" font-size="6" dy="3.7" dx="-0.4">p</tspan><tspan dy="-3.7" dx="-0.6"> = 2rps</tspan></text>
<path d="M469.4 61.2 H492.8" stroke="#ff00ff" stroke-width="1.6" fill="none" stroke-dasharray="6.5 3 2 3.5 2 3"/>
<text x="498.0" y="64.5" class="lg"><tspan font-style="italic">&#969;</tspan><tspan font-style="italic" font-size="6" dy="3.7" dx="-0.4">p</tspan><tspan dy="-3.7" dx="-0.6"> = 2.5rps</tspan></text>
<path d="M469.4 77.5 H492.8" stroke="#808000" stroke-width="1.5" fill="none" stroke-dasharray="3.7 2.3"/>
<text x="498.0" y="80.8" class="lg"><tspan font-style="italic">&#969;</tspan><tspan font-style="italic" font-size="6" dy="3.7" dx="-0.4">p</tspan><tspan dy="-3.7" dx="-0.6"> = 3rps</tspan></text>
<text x="429.3" y="159.4" class="ax" text-anchor="middle">Time (s)</text>
<text transform="translate(294 72.4) rotate(-90)" class="ax" style="font-size:10.6px" text-anchor="middle"><tspan font-style="italic">M</tspan><tspan font-style="italic" font-size="7" dy="2">X</tspan><tspan dy="-2"> (kN&#183;m)</tspan></text>
<text x="414.3" y="193" class="pl" style="font-size:13.4px" text-anchor="middle">(<tspan font-weight="bold">b</tspan>)</text>
<path d="M41.7 216.6 H267.2" stroke="#e8e8e8" stroke-width="0.8"/>
<path d="M41.7 244.3 H267.2" stroke="#e8e8e8" stroke-width="0.8"/>
<path d="M41.7 272.0 H267.2" stroke="#e8e8e8" stroke-width="0.8"/>
<path d="M41.7 299.8 H267.2" stroke="#e8e8e8" stroke-width="0.8"/>
<path d="M41.7 327.5 H267.2" stroke="#e8e8e8" stroke-width="0.8"/>
<path d="M86.8 216.6 V355.2" stroke="#e8e8e8" stroke-width="0.8"/>
<path d="M131.9 216.6 V355.2" stroke="#e8e8e8" stroke-width="0.8"/>
<path d="M177.0 216.6 V355.2" stroke="#e8e8e8" stroke-width="0.8"/>
<path d="M222.1 216.6 V355.2" stroke="#e8e8e8" stroke-width="0.8"/>
<path d="M267.2 216.6 V355.2" stroke="#e8e8e8" stroke-width="0.8"/>
<rect x="55.0" y="233.1" width="18.0" height="122.1" fill="#1a72cc"/>
<rect x="100.0" y="249.0" width="18.0" height="106.2" fill="#1a72cc"/>
<rect x="145.5" y="275.7" width="18.0" height="79.5" fill="#1a72cc"/>
<rect x="190.5" y="295.1" width="18.0" height="60.1" fill="#1a72cc"/>
<rect x="235.5" y="310.5" width="18.0" height="44.7" fill="#1a72cc"/>
<path d="M41.7 216.6 V355.2 H267.2" stroke="#737373" stroke-width="1" fill="none"/>
<path d="M41.7 355.2 V358.4" stroke="#737373" stroke-width="0.9"/>
<path d="M86.8 355.2 V358.4" stroke="#737373" stroke-width="0.9"/>
<path d="M131.9 355.2 V358.4" stroke="#737373" stroke-width="0.9"/>
<path d="M177.0 355.2 V358.4" stroke="#737373" stroke-width="0.9"/>
<path d="M222.1 355.2 V358.4" stroke="#737373" stroke-width="0.9"/>
<path d="M267.2 355.2 V358.4" stroke="#737373" stroke-width="0.9"/>
<text x="34.2" y="358.2" class="tk2" text-anchor="end">0</text>
<text x="34.2" y="330.5" class="tk2" text-anchor="end">-300</text>
<text x="34.2" y="302.8" class="tk2" text-anchor="end">-600</text>
<text x="34.2" y="275.0" class="tk2" text-anchor="end">-900</text>
<text x="34.2" y="247.3" class="tk2" text-anchor="end">-1200</text>
<text x="34.2" y="219.6" class="tk2" text-anchor="end">-1500</text>
<text x="64.2" y="368.7" class="tk2" text-anchor="middle">1</text>
<text x="109.4" y="368.7" class="tk2" text-anchor="middle">1.5</text>
<text x="154.4" y="368.7" class="tk2" text-anchor="middle">2</text>
<text x="199.6" y="368.7" class="tk2" text-anchor="middle">2.5</text>
<text x="244.7" y="368.7" class="tk2" text-anchor="middle">3</text>
<text x="162.6" y="381.5" class="ax2" text-anchor="middle">Rotational speeds&#160; (rps)</text>
<text transform="translate(11.6 297.8) rotate(-90)" class="ax" style="font-size:10.8px" text-anchor="middle"><tspan font-style="italic">Fx</tspan>&#160; (kN)</text>
<text x="135.3" y="416" class="pl" text-anchor="middle">(<tspan font-weight="bold">c</tspan>)</text>
<path d="M317.5 216.5 H543.5" stroke="#ececec" stroke-width="0.8"/>
<path d="M317.5 262.2 H543.5" stroke="#ececec" stroke-width="0.8"/>
<path d="M317.5 308.0 H543.5" stroke="#ececec" stroke-width="0.8"/>
<path d="M362.7 216.5 V353.7" stroke="#ececec" stroke-width="0.8"/>
<path d="M407.9 216.5 V353.7" stroke="#ececec" stroke-width="0.8"/>
<path d="M453.1 216.5 V353.7" stroke="#ececec" stroke-width="0.8"/>
<path d="M498.3 216.5 V353.7" stroke="#ececec" stroke-width="0.8"/>
<path d="M543.5 216.5 V353.7" stroke="#ececec" stroke-width="0.8"/>
<rect x="331.2" y="244.2" width="18.2" height="109.5" fill="#0a55a0"/>
<rect x="376.4" y="260.8" width="18.2" height="92.9" fill="#0a55a0"/>
<rect x="421.6" y="276.0" width="18.0" height="77.7" fill="#0a55a0"/>
<rect x="466.8" y="296.0" width="17.7" height="57.7" fill="#0a55a0"/>
<rect x="512.0" y="317.0" width="18.0" height="36.7" fill="#0a55a0"/>
<path d="M317.5 216.5 V353.7 H543.5" stroke="#b8b8b8" stroke-width="1" fill="none"/>
<path d="M317.5 353.7 V351.5" stroke="#b8b8b8" stroke-width="0.9"/>
<path d="M362.7 353.7 V351.5" stroke="#b8b8b8" stroke-width="0.9"/>
<path d="M407.9 353.7 V351.5" stroke="#b8b8b8" stroke-width="0.9"/>
<path d="M453.1 353.7 V351.5" stroke="#b8b8b8" stroke-width="0.9"/>
<path d="M498.3 353.7 V351.5" stroke="#b8b8b8" stroke-width="0.9"/>
<path d="M543.5 353.7 V351.5" stroke="#b8b8b8" stroke-width="0.9"/>
<text x="310.6" y="356.7" class="tk2" text-anchor="end">0</text>
<text x="310.6" y="311.0" class="tk2" text-anchor="end">300</text>
<text x="310.6" y="265.2" class="tk2" text-anchor="end">600</text>
<text x="310.6" y="219.5" class="tk2" text-anchor="end">900</text>
<text x="340.1" y="367.2" class="tk2" text-anchor="middle">1</text>
<text x="385.3" y="367.2" class="tk2" text-anchor="middle">1.5</text>
<text x="430.5" y="367.2" class="tk2" text-anchor="middle">2</text>
<text x="475.7" y="367.2" class="tk2" text-anchor="middle">2.5</text>
<text x="520.9" y="367.2" class="tk2" text-anchor="middle">3</text>
<text x="438.6" y="380.5" class="ax2" text-anchor="middle">Rotational speeds&#160; (rps)</text>
<text transform="translate(291.8 295.9) rotate(-90)" class="ax" style="font-size:11px" text-anchor="middle"><tspan font-style="italic">Mx</tspan>&#160; (kN&#183;m)</text>
<text x="413.7" y="417" class="pl" text-anchor="middle">(<tspan font-weight="bold">d</tspan>)</text>
</svg>
</body></html>
